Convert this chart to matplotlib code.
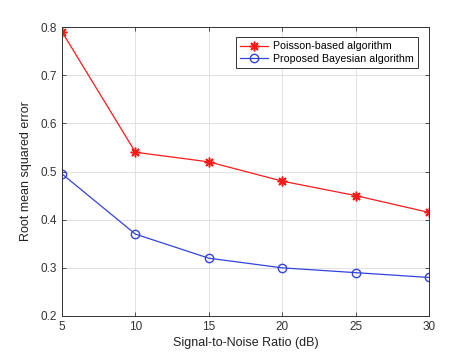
import matplotlib
matplotlib.use("Agg")
import matplotlib.pyplot as plt

snr = [5, 10, 15, 20, 25, 30]
poisson_rmse = [0.79, 0.54, 0.52, 0.48, 0.45, 0.415]
bayes_rmse = [0.495, 0.37, 0.32, 0.30, 0.29, 0.28]
y_ticks = [0.2, 0.3, 0.4, 0.5, 0.6, 0.7, 0.8]

plt.rcParams["font.family"] = ["Liberation Sans", "DejaVu Sans"]

fig = plt.figure(figsize=(4.74, 3.55), dpi=100)
ax = fig.add_axes([62 / 474, 1 - 316 / 355, (429 - 62) / 474, (316 - 27) / 355])

# MATLAB-like asterisk marker
ax.plot(snr, poisson_rmse, color="#ff1a1a", lw=0.9, marker=(8, 2, 0), ms=7,
        mew=1.1, mec="#ff1a1a", label="Poisson-based algorithm")
ax.plot(snr, bayes_rmse, color="#3344dd", lw=0.9, marker="o", ms=6,
        mec="#3344dd", mfc="none", label="Proposed Bayesian algorithm")

ax.set_xlim(5, 30)
ax.set_ylim(0.2, 0.8)
ax.set_xticks(snr)
ax.set_yticks(y_ticks)
ax.set_yticklabels([f"{v:.1f}" for v in y_ticks])
ax.grid(True, color="#dddddd", lw=0.6)
ax.set_axisbelow(True)
ax.tick_params(direction="in", top=True, right=True, labelsize=8.5,
               colors="#333333", length=3, width=0.6)
for s in ax.spines.values():
    s.set_color("#333333")
    s.set_linewidth(0.7)

ax.set_xlabel("Signal-to-Noise Ratio (dB)", fontsize=9, color="#222222", labelpad=3)
ax.set_ylabel("Root mean squared error", fontsize=9, color="#222222", labelpad=6)

leg = ax.legend(loc="upper right", bbox_to_anchor=(0.970, 0.965), borderaxespad=0,
                fontsize=7.7, fancybox=False, framealpha=1, edgecolor="#333333",
                borderpad=0.4, handlelength=2.6, labelspacing=0.25, handletextpad=0.5)
leg.get_frame().set_linewidth(0.7)

fig.savefig("out.png", dpi=100)
